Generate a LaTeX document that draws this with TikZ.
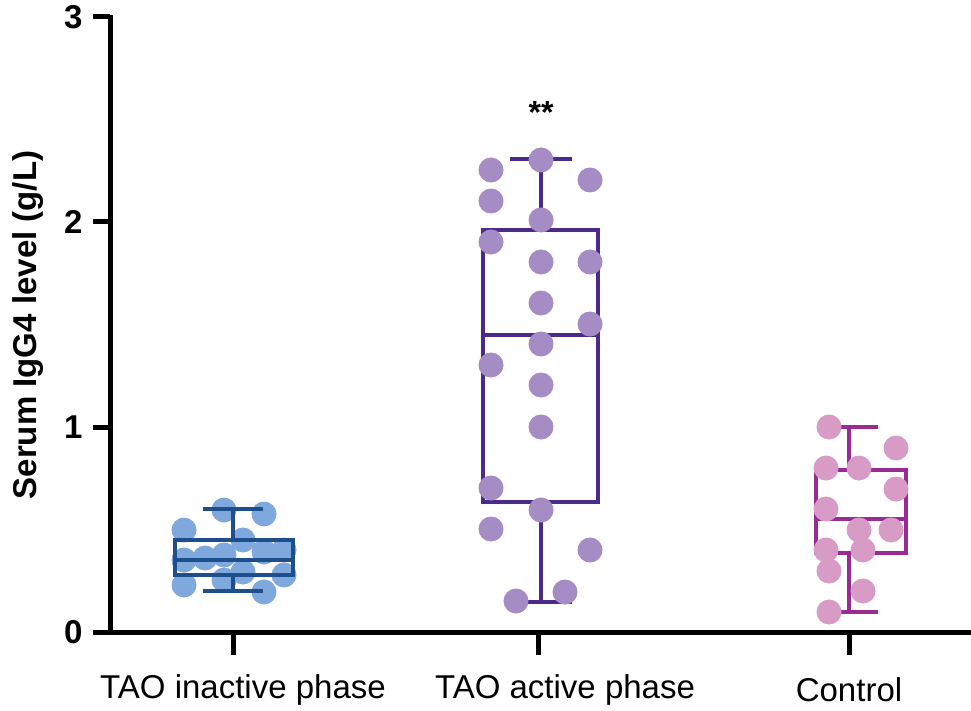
\documentclass[tikz,border=0pt]{standalone}
\usepackage{fontspec}
\setmainfont{Liberation Sans}
\begin{document}
\begin{tikzpicture}[x=1pt,y=-1pt,
  dotA/.style={fill=c1d,draw=none},
  dotB/.style={fill=c2d,draw=none},
  dotC/.style={fill=c3d,draw=none},
  boxline/.style={line width=4.5pt},
  axis/.style={line width=5pt},
  lab/.style={font=\fontsize{33}{36}\selectfont},
  tlab/.style={font=\bfseries\fontsize{33}{36}\selectfont}]
\definecolor{c1d}{HTML}{7FA8DD}\definecolor{c1l}{HTML}{1F4E8C}
\definecolor{c2d}{HTML}{A58CC4}\definecolor{c2l}{HTML}{4B2A8C}
\definecolor{c3d}{HTML}{D79BC6}\definecolor{c3l}{HTML}{9A2A94}
\useasboundingbox (0,0) rectangle (971,711);
% group 2 box
\begin{scope}[c2l,boxline]
\draw (483,230) rectangle (598,502);
\draw (483,335) -- (598,335);
\draw (541,159) -- (541,230); \draw (510,159) -- (572,159);
\draw (541,502) -- (541,602); \draw (510,602) -- (572,602);
\end{scope}
\foreach \p in {(491,170),(541,160),(590,180),(491,201),(541,220),(491,242),(541,262),(590,262),(541,303),(590,324),(541,344),(491,365),(541,385),(541,427),(491,488),(541,510),(491,529),(590,550),(565,592),(516,601)}
  \fill[dotB] \p circle (12.5);
\node[font=\bfseries\fontsize{32}{34}\selectfont] (star) at (541,112) {**};
% group 3 box
\begin{scope}[c3l,boxline]
\draw (816,470) rectangle (906,553);
\draw (816,519) -- (906,519);
\draw (849,427) -- (849,470); \draw (829,427) -- (878,427);
\draw (849,553) -- (849,612); \draw (829,612) -- (878,612);
\end{scope}
\foreach \p in {(829,427),(896,448),(826,468),(859,468),(896,489),(826,509),(891,530),(859,530),(826,550),(863,550),(829,571),(863,591),(829,612)}
  \fill[dotC] \p circle (12.5);
% group 1
\foreach \p in {(184,530),(224,510),(264,514),(184,560),(205,558),(224,555),(243,540),(264,552),(284,550),(184,585),(224,580),(243,572),(264,592),(284,575)}
  \fill[dotA] \p circle (12.5);
\begin{scope}[c1l,boxline]
\draw (175,540) rectangle (293,575);
\draw (175,560) -- (293,560);
\draw (233,509) -- (233,540); \draw (203,509) -- (263,509);
\draw (233,575) -- (233,591); \draw (203,591) -- (263,591);
\end{scope}
% axes
\draw[axis] (110,15) -- (110,632) -- (971,632);
\foreach \yy/\t in {632/0,427/1,222/2,17/3}{
  \draw[axis] (93,\yy) -- (110,\yy);
  \node[tlab,anchor=east] at (86,\yy) {\t};}
\foreach \xx in {233,538,849} \draw[axis] (\xx,632) -- (\xx,655);
\node[lab] (l1) at (243,690) {TAO inactive phase};
\node[lab] (l2) at (565,690) {TAO active phase};
\node[lab] (l3) at (849,690) {Control};
\node[tlab,rotate=90] (yl) at (28,325) {Serum IgG4 level (g/L)};
\end{tikzpicture}
\end{document}
